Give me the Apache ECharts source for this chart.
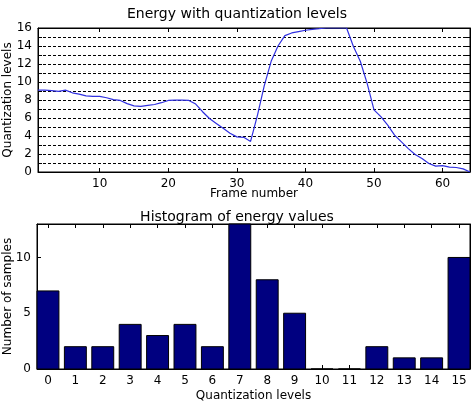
<!DOCTYPE html>
<html><head><meta charset="utf-8">
<script src="https://cdn.jsdelivr.net/npm/echarts@6/dist/echarts.min.js"></script>
<style>html,body{margin:0;padding:0;background:#fff}#c{width:474px;height:405px}</style>
</head><body><div id="c"></div>
<script>
var frames = [];
for (var i = 1; i <= 64; i++) frames.push(i);
var energy = [9.1,9.1,9.05,8.95,9.1,8.8,8.65,8.45,8.4,8.4,8.25,8.05,7.95,7.6,7.35,7.3,7.4,7.5,7.7,7.95,
  7.98,7.98,7.95,7.55,6.7,5.95,5.4,4.85,4.3,3.9,3.85,3.4,6.3,9.6,12.3,14.0,15.15,15.45,15.6,15.75,
  15.85,15.92,16,16,16,16,13.95,12.3,9.85,6.9,6.15,5.2,4.1,3.35,2.6,1.95,1.5,0.95,0.65,0.7,
  0.55,0.5,0.35,0.0];
var levels = [0,1,2,3,4,5,6,7,8,9,10,11,12,13,14,15];
var counts = [7,2,2,4,3,4,2,13,8,5,0,0,2,1,1,10];
var xTicksTop = [10,20,30,40,50,60];
var yTicksBottom = [0,5,10];

var F = 'DejaVu Sans';
var lineData = frames.map(function(f, i){ return [f, energy[i]]; });
var barData = levels.map(function(l, i){ return [l, counts[i]]; });

var tickIn = {show:true, inside:true, length:4, lineStyle:{color:'#000'}};
var axisL = {show:true, onZero:false, lineStyle:{color:'#000', width:1}};
var lab = {color:'#000', fontFamily:F, fontSize:12};
var nameSt = {color:'#000', fontFamily:F, fontSize:12};

var chart = echarts.init(document.getElementById('c'), null, {renderer:'canvas'});
chart.setOption({
  animation:false,
  backgroundColor:'#fff',
  title:[
    {text:'Energy with quantization levels', left:'center', top:2, textStyle:{fontFamily:F, fontSize:14, fontWeight:'normal', color:'#000'}},
    {text:'Histogram of energy values', left:'center', top:205, textStyle:{fontFamily:F, fontSize:14, fontWeight:'normal', color:'#000'}}
  ],
  grid:[
    {left:38, right:4, top:28, height:144, show:true, borderColor:'#000', borderWidth:1, outerBoundsMode:'none', containLabel:false},
    {left:37, right:4, top:224, height:145, show:true, borderColor:'#000', borderWidth:1, outerBoundsMode:'none', containLabel:false}
  ],
  xAxis:[
    {type:'value', gridIndex:0, min:1, max:64, axisLine:axisL,
     axisTick:Object.assign({customValues:xTicksTop}, tickIn),
     axisLabel:Object.assign({customValues:xTicksTop, margin:6}, lab),
     splitLine:{show:false}, nameMoveOverlap:false,
     name:'Frame number', nameLocation:'middle', nameGap:16, nameTextStyle:nameSt},
    {type:'value', gridIndex:0, position:'top', min:1, max:64, axisLine:axisL,
     axisTick:Object.assign({customValues:xTicksTop}, tickIn),
     axisLabel:{show:false}, splitLine:{show:false}},
    {type:'value', gridIndex:1, min:-0.4, max:15.4, axisLine:axisL,
     axisTick:Object.assign({customValues:levels}, tickIn),
     axisLabel:Object.assign({customValues:levels, margin:6}, lab),
     splitLine:{show:false}, nameMoveOverlap:false,
     name:'Quantization levels', nameLocation:'middle', nameGap:21, nameTextStyle:nameSt},
    {type:'value', gridIndex:1, position:'top', min:-0.4, max:15.4, axisLine:axisL,
     axisTick:Object.assign({customValues:levels}, tickIn),
     axisLabel:{show:false}, splitLine:{show:false}}
  ],
  yAxis:[
    {type:'value', gridIndex:0, min:0, max:16, interval:1, axisLine:axisL, axisTick:tickIn,
     axisLabel:Object.assign({formatter:function(v){return v%2===0?String(v):'';}, margin:6}, lab),
     splitLine:{show:true, lineStyle:{color:'#000', type:[3,2], width:1}}, nameMoveOverlap:false,
     name:'Quantization levels', nameLocation:'middle', nameGap:24, nameTextStyle:nameSt},
    {type:'value', gridIndex:0, position:'right', min:0, max:16, interval:1, axisLine:axisL, axisTick:tickIn,
     axisLabel:{show:false}, splitLine:{show:false}},
    {type:'value', gridIndex:1, min:0, max:13, axisLine:axisL,
     axisTick:Object.assign({customValues:yTicksBottom}, tickIn),
     axisLabel:Object.assign({customValues:yTicksBottom, margin:6}, lab), splitLine:{show:false},
     nameMoveOverlap:false,
     name:'Number of samples', nameLocation:'middle', nameGap:23, nameTextStyle:nameSt},
    {type:'value', gridIndex:1, position:'right', min:0, max:13, axisLine:axisL,
     axisTick:Object.assign({customValues:yTicksBottom}, tickIn),
     axisLabel:{show:false}, splitLine:{show:false}}
  ],
  series:[
    {type:'line', xAxisIndex:0, yAxisIndex:0, data:lineData, showSymbol:false, symbol:'none',
     lineStyle:{color:'#3030e0', width:1.2}, z:5},
    {type:'custom', xAxisIndex:2, yAxisIndex:2, data:barData, z:5,
     renderItem:function(params, api){
       var x = api.value(0), v = api.value(1);
       var p0 = api.coord([x-0.4, v]);
       var p1 = api.coord([x+0.4, 0]);
       return {type:'rect', shape:{x:p0[0], y:p0[1], width:p1[0]-p0[0], height:p1[1]-p0[1]},
         style:{fill:'#000080', stroke:'#000', lineWidth:1}};
     }}
  ]
});
</script></body></html>
